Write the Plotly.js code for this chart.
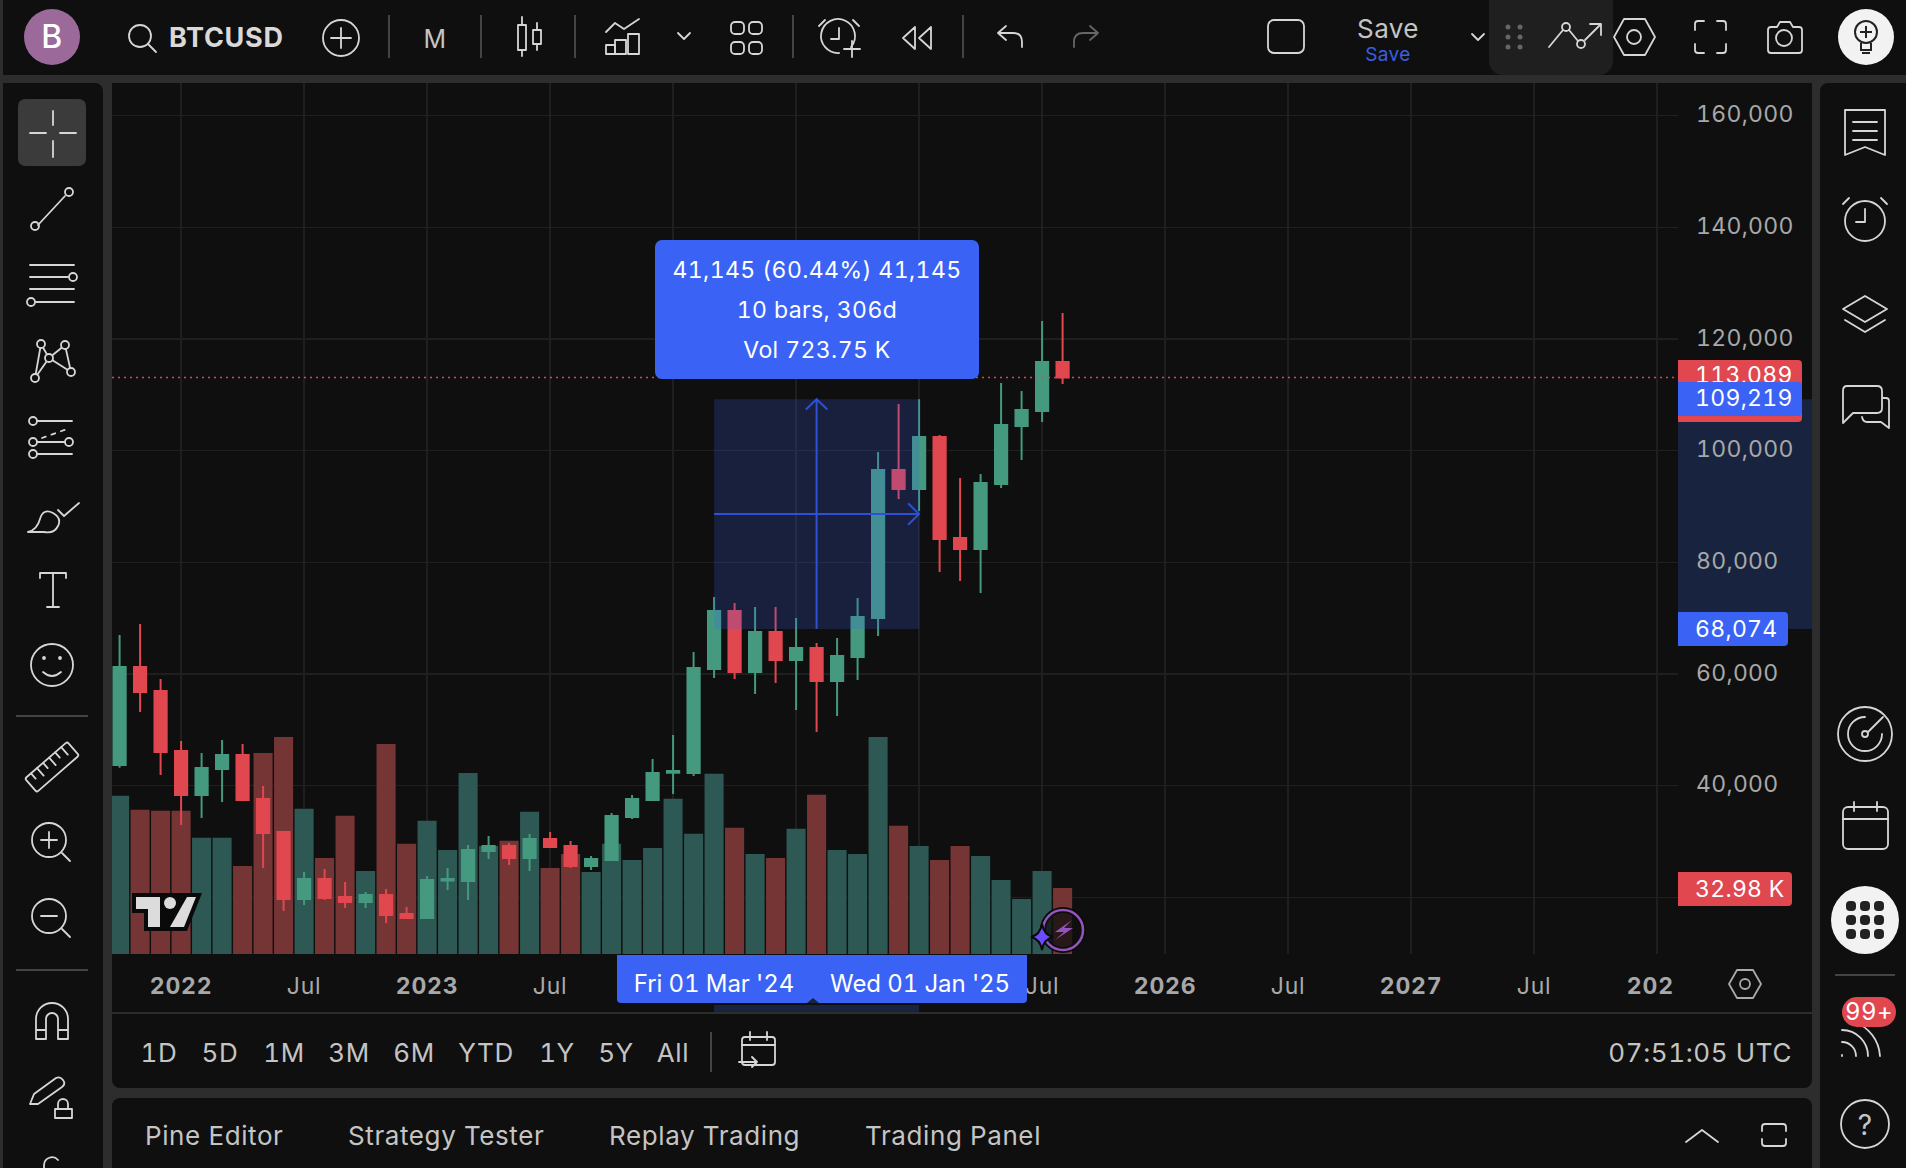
<!DOCTYPE html>
<html><head><meta charset="utf-8">
<script src="https://cdn.plot.ly/plotly-3.0.1.min.js"></script>
<style>
html,body{margin:0;padding:0;width:1906px;height:1168px;overflow:hidden;background:#2d2d2d;font-family:Inter,"Noto Sans",sans-serif;font-feature-settings:"tnum" 1}
text{font-feature-settings:"tnum" 1}
.p{position:absolute;background:#0f0f0f}
.t{position:absolute;white-space:nowrap;color:#c4c4c4;font-size:25px;line-height:1;letter-spacing:.4px}
.c{transform:translate(-50%,-50%)}
.l{transform:translateY(-50%)}
.r{font-size:26px;letter-spacing:.6px}
.b{font-size:26px;letter-spacing:.6px}
#chart{position:absolute;left:112px;top:83px;width:1700px;height:929px}
.y2tick{transform:translateY(-1.5px)}
.y2tick text{letter-spacing:.3px}
.xtick{transform:translateY(-1px)}
.xtick text{letter-spacing:.8px}
.annotation text{letter-spacing:.8px}
.tag{position:absolute;border-radius:0 4px 4px 0;color:#fff;font-size:23px;letter-spacing:.3px;line-height:1}
.tag span{position:absolute;left:17px}
svg.ui{position:absolute;left:0;top:0;pointer-events:none}
svg.ui .i{fill:none;stroke:#d6d6d6;stroke-width:1.8;stroke-linecap:round;stroke-linejoin:round}
</style></head><body>
<div class="p" style="left:3px;top:0;width:1903px;height:75px"></div>
<div class="p" style="left:3px;top:83px;width:100px;height:1085px;border-radius:0 8px 0 0"></div>
<div class="p" style="left:1820px;top:83px;width:86px;height:1085px;border-radius:8px 0 0 0"></div>
<div class="p" style="left:112px;top:1014px;width:1700px;height:74px;border-radius:0 0 8px 8px"></div>
<div class="p" style="left:112px;top:1098px;width:1700px;height:70px;border-radius:8px 8px 0 0"></div>
<div id="chart"></div>

<div class="tag" style="left:1678px;top:360px;width:124px;height:62px;background:#e0474f"><span style="top:4px">113,089</span></div>
<div class="tag" style="left:1678px;top:382px;width:124px;height:34px;background:#3a63f5"><span style="top:5px">109,219</span></div>
<div class="tag" style="left:1678px;top:612px;width:110px;height:34px;background:#3a63f5"><span style="top:6px">68,074</span></div>
<div class="tag" style="left:1678px;top:872px;width:114px;height:34px;background:#e0474f"><span style="top:6px">32.98 K</span></div>

<div style="position:absolute;left:655px;top:240px;width:324px;height:139px;background:#3a63f5;border-radius:7px;color:#fff">
<div class="t c" style="left:162px;top:30px;color:#fff;font-size:23px;letter-spacing:.4px">41,145 (60.44%) 41,145</div>
<div class="t c" style="left:162px;top:70px;color:#fff;font-size:23px;letter-spacing:.4px">10 bars, 306d</div>
<div class="t c" style="left:162px;top:110px;color:#fff;font-size:23px;letter-spacing:.4px">Vol 723.75 K</div>
</div>
<div style="position:absolute;left:617px;top:955px;width:410px;height:48px;background:#3a63f5;border-radius:0 0 4px 4px"></div>
<div style="position:absolute;left:807px;top:998px;width:0;height:0;border-left:6px solid transparent;border-right:6px solid transparent;border-bottom:5px solid #18233f"></div>
<div class="t c" style="left:714px;top:984px;color:#fff;font-size:24px;letter-spacing:-.1px">Fri 01 Mar '24</div>
<div class="t c" style="left:920px;top:984px;color:#fff;font-size:24px;letter-spacing:-.1px">Wed 01 Jan '25</div>

<svg class="ui" width="1906" height="1168" viewBox="0 0 1906 1168">
<!-- top toolbar -->
<rect x="1489" y="-14" width="124" height="89" rx="14" fill="#1f1f1f"/>
<circle cx="52" cy="37" r="28" fill="#9b6a9b"/>
<g fill="#666"><circle cx="1508" cy="27" r="2.5"/><circle cx="1520" cy="27" r="2.5"/><circle cx="1508" cy="37" r="2.5"/><circle cx="1520" cy="37" r="2.5"/><circle cx="1508" cy="47" r="2.5"/><circle cx="1520" cy="47" r="2.5"/></g>
<g stroke="#444" stroke-width="2"><path d="M389 15V58M481 15V58M575 15V58M793 15V58M963 15V58"/></g>
<g class="i">
<circle cx="140" cy="36" r="11"/><path d="M148 44l8 8"/>
<circle cx="341" cy="38" r="18"/><path d="M331 38h20M341 28v20"/>
<rect x="518" y="25" width="8" height="25"/><path d="M522 17v8M522 50v6"/><rect x="533" y="30" width="8" height="14"/><path d="M537 23v7M537 44v6"/>
<path d="M606 32l9-9 9 6 15-10"/><rect x="606" y="45" width="9" height="9"/><rect x="615" y="40" width="11" height="14"/><rect x="628" y="34" width="11" height="20"/>
<path d="M678 33l6 6 6-6"/>
<rect x="731" y="22" width="13" height="12" rx="4"/><rect x="749" y="22" width="13" height="12" rx="4"/><rect x="731" y="42" width="13" height="12" rx="4"/><rect x="749" y="42" width="13" height="12" rx="4"/>
<path d="M851 47a17 17 0 1 0-12 6"/><path d="M839 28v11h-8M825 20l-6 6M853 20l6 6M852 41v16M844 49h16"/>
<path d="M915 27l-12 11 12 11zM931 27l-12 11 12 11z"/>
<path d="M1022 47v-5q0-9-9-9h-15m8-7l-8 7 8 7"/>
<path d="M1074 47v-5q0-9 9-9h15m-8-7l8 7-8 7" stroke="#666"/>
<rect x="1268" y="20" width="36" height="33" rx="6"/>
<path d="M1472 34l6 6 6-6"/>
<path d="M1549 47l14-17M1569 30l9 11M1585 40l15-15M1590 24h11v11"/><circle cx="1566" cy="27" r="4"/><circle cx="1581" cy="44" r="4"/>
<path d="M1614 37l10-18h21l10 18-10 18h-21z"/><circle cx="1634" cy="37" r="7"/>
<path d="M1695 30v-6q0-3 3-3h6M1717 21h6q3 0 3 3v6M1726 44v6q0 3-3 3h-6M1704 53h-6q-3 0-3-3v-6"/>
<path d="M1768 30q0-3 3-3h6l3-5h10l3 5h6q3 0 3 3v20q0 3-3 3h-28q-3 0-3-3z"/><circle cx="1784" cy="38" r="8"/>
</g>
<circle cx="1866" cy="37" r="28" fill="#f2f2f2"/>
<g fill="none" stroke="#222" stroke-width="2"><circle cx="1866" cy="32" r="11"/><path d="M1860 32h12M1866 26v12M1861 43v7h10v-7M1862 53h8"/></g>

<!-- left toolbar -->
<rect x="18" y="99" width="68" height="67" rx="7" fill="#3b3b3b"/>
<g class="i">
<path d="M30 133h16M60 133h16M53 111v14M53 141v16"/>
<path d="M38 225l27-29"/><circle cx="35" cy="226" r="4"/><circle cx="69" cy="192" r="4"/>
<path d="M30 265h44M30 277h38M30 289h44M36 302h38"/><circle cx="73" cy="277" r="4"/><circle cx="31" cy="302" r="4"/>
<path d="M35 378l6-34 8 14 16-13 6 27-22-14-14 20z"/><circle cx="35" cy="378" r="4" fill="#0f0f0f"/><circle cx="41" cy="344" r="4" fill="#0f0f0f"/><circle cx="49" cy="358" r="4" fill="#0f0f0f"/><circle cx="65" cy="345" r="4" fill="#0f0f0f"/><circle cx="71" cy="372" r="4" fill="#0f0f0f"/>
<path d="M37 421h35M37 442h28M37 454h35"/><path d="M42 438l28-10" stroke-dasharray="4 6"/><circle cx="33" cy="421" r="4"/><circle cx="33" cy="442" r="4"/><circle cx="69" cy="442" r="4"/><circle cx="33" cy="454" r="4"/>
<path d="M28 532q9-2 12-13t13-6q9 5 5 13t-14 6zM58 510l6 6 15-13"/>
<path d="M40 578v-5h26v5M53 573v34M47 607h12"/>
<circle cx="52" cy="665" r="21"/><path d="M43 672q9 8 18 0"/><circle cx="44" cy="658" r="1"/><circle cx="60" cy="658" r="1"/>
<g transform="rotate(-41 52 767)"><rect x="24" y="758" width="56" height="18" rx="2"/><path d="M32 758v7M40 758v10M48 758v7M56 758v10M64 758v7M72 758v10"/></g>
<circle cx="49" cy="840" r="17"/><path d="M62 853l8 8M41 840h16M49 832v16"/>
<circle cx="49" cy="916" r="17"/><path d="M62 929l8 8M41 916h16"/>
<path d="M36 1039v-20a16 16 0 0 1 32 0v20h-10v-20a6 6 0 0 0-12 0v20zM36 1030h10M58 1030h10"/>
<path d="M30 1104l4-10 22-16q4-2 7 2t-1 7l-24 17zM55 1118v-9h17v9zM58 1109v-5a5 5 0 0 1 10 0v5"/>
<path d="M44 1168v-3a8 8 0 0 1 14-5"/>
</g>
<g stroke="#444" stroke-width="2"><path d="M16 716H88M16 970H88"/></g>

<!-- right toolbar -->
<g class="i">
<path d="M1845 110h40v45l-20-8-20 8zM1853 122h24M1853 131h24M1853 140h24"/>
<circle cx="1865" cy="221" r="20"/><path d="M1865 209v13h-9M1843 204l6-6M1887 204l-6-6"/>
<path d="M1865 296l22 13-22 13-22-13zM1845 320l20 12 20-12"/>
<path d="M1847 386h30q5 0 5 5v17q0 5-5 5h-24l-10 10v-32q0-5 4-5zM1882 398h4q3 0 3 3v27l-8-6h-14q-4 0-5-5"/>
<circle cx="1865" cy="734" r="27"/><path d="M1865 717a17 17 0 1 0 17 17"/><circle cx="1865" cy="734" r="3"/><path d="M1868 732l15-15"/>
<rect x="1843" y="807" width="45" height="42" rx="5"/><path d="M1843 819h45M1854 802v9M1877 802v9"/>
<path d="M1842 1055a8 8 0 0 0 0 1M1842 1042a14 14 0 0 1 14 14M1842 1030a26 26 0 0 1 26 26M1854 1022a38 38 0 0 1 26 34"/>
<circle cx="1865" cy="1124" r="24"/>
</g>
<g stroke="#444" stroke-width="2"><path d="M1835 975H1895"/></g>
<circle cx="1865" cy="920" r="34" fill="#f2f2f2"/>
<g fill="#222"><rect x="1846" y="901" width="10" height="10" rx="4"/><rect x="1860" y="901" width="10" height="10" rx="4"/><rect x="1874" y="901" width="10" height="10" rx="4"/><rect x="1846" y="915" width="10" height="10" rx="4"/><rect x="1860" y="915" width="10" height="10" rx="4"/><rect x="1874" y="915" width="10" height="10" rx="4"/><rect x="1846" y="929" width="10" height="10" rx="4"/><rect x="1860" y="929" width="10" height="10" rx="4"/><rect x="1874" y="929" width="10" height="10" rx="4"/></g>
<rect x="1842" y="997" width="54" height="30" rx="15" fill="#e0474f"/>

<!-- bottom / axis icons -->
<g class="i">
<path d="M1729 984l8-14h16l8 14-8 14h-16z" stroke="#aaa"/><circle cx="1745" cy="984" r="5" stroke="#aaa"/>
<rect x="742" y="1037" width="33" height="28" rx="3" fill="none"/><path d="M742 1045h33M750 1032v8M767 1032v8M739 1062h18m-5-5l5 5-5 5"/>
<path d="M1686 1142l16-12 16 12"/>
<path d="M1762 1131v-4q0-3 3-3h18q3 0 3 3v4M1762 1139v4q0 3 3 3h18q3 0 3-3v-4"/>
</g>
<g stroke="#444" stroke-width="2"><path d="M711 1032V1072"/></g>

<!-- TV logo + badges over the chart -->
<path d="M132 893h70l-15 38h-43v-18h-12z" fill="#0a0a0a"/>
<g fill="#dcdcdc"><path d="M136 897h24v30h-12v-18h-12z"/><circle cx="170" cy="903" r="6"/><path d="M187 897h9l-12 30h-14z"/></g>
<circle cx="1063" cy="930" r="20" fill="none" stroke="#0a0a0a" stroke-width="6"/>
<circle cx="1063" cy="930" r="20" fill="#0f0f0f" fill-opacity=".75" stroke="#9553c0" stroke-width="2.5"/>
<path d="M1072 920l-17 12h9l-9 8 18-12h-9z" fill="#9553c0"/>
<path d="M1042 924q2 11 11 13-9 2-11 13-2-11-11-13 9-2 11-13z" fill="#6a4cff" stroke="#0a0a0a" stroke-width="2"/>
</svg>

<!-- texts -->
<div class="t c" style="left:52px;top:37px;color:#fff;font-size:32px;font-weight:500">B</div>
<div class="t l" style="left:169px;top:37px;color:#d9d9d9;font-size:27px;font-weight:700;letter-spacing:.7px">BTCUSD</div>
<div class="t c" style="left:435px;top:39px;font-size:25px">M</div>
<div class="t c" style="left:1388px;top:29px;font-size:26px">Save</div>
<div class="t c" style="left:1388px;top:54px;color:#3a5fe0;font-size:19px">Save</div>
<div class="t c" style="left:1869px;top:1012px;color:#fff;font-size:24px">99+</div>
<div class="t c" style="left:1865px;top:1125px;font-size:28px">?</div>
<div class="t c r" style="left:159px;top:1053px">1D</div>
<div class="t c r" style="left:220px;top:1053px">5D</div>
<div class="t c r" style="left:284px;top:1053px">1M</div>
<div class="t c r" style="left:349px;top:1053px">3M</div>
<div class="t c r" style="left:414px;top:1053px">6M</div>
<div class="t c r" style="left:486px;top:1053px">YTD</div>
<div class="t c r" style="left:557px;top:1053px">1Y</div>
<div class="t c r" style="left:616px;top:1053px">5Y</div>
<div class="t c r" style="left:673px;top:1053px">All</div>
<div class="t l r" style="right:114px;top:1053px;letter-spacing:.6px">07:51:05 UTC</div>
<div class="t l b" style="left:145px;top:1136px">Pine Editor</div>
<div class="t l b" style="left:348px;top:1136px">Strategy Tester</div>
<div class="t l b" style="left:609px;top:1136px">Replay Trading</div>
<div class="t l b" style="left:865px;top:1136px">Trading Panel</div>

<script>
// Monthly BTCUSD candles, Oct 2021 .. Aug 2025; index 0 = Jan 2022
const monthIndex = [-3,-2,-1,0,1,2,3,4,5,6,7,8,9,10,11,12,13,14,15,16,17,18,19,20,21,22,23,24,25,26,27,28,29,30,31,32,33,34,35,36,37,38,39,40,41,42,43];
const open  = [43692,61247,56948,46201,38319,42976,45484,37602,31691,19689,23272,20046,19150,20405,16999,16285,23000,22913,28287,29183,27033,30437,29183,25600,26675,34376,37421,42317,42257,60890,71279,60352,67517,62502,64652,58740,63040,70025,96536,93133,102448,84355,82385,94028,104418,107105,115883];
const high  = [66979,68950,59098,47992,45842,48170,47455,39931,31870,24526,25063,22734,20943,21480,18256,23809,25242,29362,30974,29720,31332,31690,30080,27390,35095,38316,44765,49064,63935,73787,72714,71996,71996,70025,65547,66443,73608,99760,108359,109219,102806,95103,95820,112121,110688,123227,124660];
const low   = [43215,53186,41901,32945,34199,37064,37423,25243,17539,18614,19510,18076,18076,15389,16285,16285,21300,19510,26854,25779,24705,28825,25243,24883,26496,34017,37421,38495,41720,59278,59100,56412,58382,53547,49603,52473,58919,66800,91342,89192,78265,76653,74503,93312,98328,105135,111941];
const close = [61247,56769,46020,38319,43154,45484,37423,31511,19689,23272,19868,19150,20405,16822,16285,23093,23272,28467,29183,27033,30437,29004,25600,26854,34556,37600,42257,42615,61069,71279,60352,67517,62502,64652,58740,63219,70205,96536,93133,102448,84176,82385,94208,104598,107284,115883,113089];
const volumeK = [79,72,71.5,71.5,58,58,44,100.4,108.4,72.5,48,69,41.5,104.9,55,66.5,52,90.4,54,56.5,71,43,50,41,55,47,53,77.5,60,90,63,50,48,62.5,79.5,52,50,108.4,64,54,47,54,49,37,27.5,41.5,32.98];

// Axis ticks
const timeTicks = [0,6,12,18,24,30,36,42,48,54,60,66,72];
const timeLabels = ['<b>2022</b>','Jul','<b>2023</b>','Jul','','','','Jul','<b>2026</b>','Jul','<b>2027</b>','Jul',''];
const priceTicks = [20000,40000,60000,80000,100000,120000,140000,160000];
const priceLabels = ['','40,000','60,000','80,000','100,000','120,000','140,000','160,000'];

// Date-and-price range measurement
const rangeStart = 26, rangeEnd = 36, rangeLow = 68074, rangeHigh = 109219, lastClose = 113089;

const GREEN='#45997f', RED='#e0474f', BLUE='#2f50d3';
const midX=(rangeStart+rangeEnd)/2, midY=(rangeLow+rangeHigh)/2;
const pxX=1/20.5, pxY=179.13;
const lineShape=(path)=>({type:'path',xref:'x',yref:'y2',layer:'above',path,line:{color:BLUE,width:2}});

const traces=[
 {type:'bar',x:monthIndex,y:volumeK,xaxis:'x',yaxis:'y',hoverinfo:'skip',
  marker:{color:monthIndex.map((_,i)=>close[i]>=open[i]?'#2e5853':'#763535'),line:{width:0}}},
 {type:'candlestick',x:monthIndex,open,high,low,close,xaxis:'x',yaxis:'y2',hoverinfo:'skip',whiskerwidth:0,
  increasing:{line:{color:GREEN,width:2},fillcolor:GREEN},
  decreasing:{line:{color:RED,width:2},fillcolor:RED}}
];
const layout={
 width:1700,height:929,margin:{l:0,r:134,t:0,b:58,pad:0},
 paper_bgcolor:'#0f0f0f',plot_bgcolor:'#0f0f0f',showlegend:false,
 bargap:0.07,boxgap:0.15,
 font:{family:'Inter, "Noto Sans", sans-serif',color:'#a8a8a8'},
 xaxis:{range:[-3.37,73.02],tickmode:'array',tickvals:timeTicks,ticktext:timeLabels,showgrid:true,gridcolor:'#1f1f1f',gridwidth:1.5,
   zeroline:false,showline:false,ticks:'',ticklabelstandoff:17,tickangle:0,tickfont:{size:23,color:'#a8a8a8'},rangeslider:{visible:false},fixedrange:true},
 yaxis:{range:[0,435],visible:false,showgrid:false,zeroline:false,fixedrange:true},
 yaxis2:{overlaying:'y',side:'right',anchor:'x',range:[9834,165858],tickmode:'array',tickvals:priceTicks,ticktext:priceLabels,
   showgrid:true,gridcolor:'#1f1f1f',gridwidth:1.5,zeroline:false,showline:false,ticks:'',ticklabelstandoff:17,tickfont:{size:23,color:'#a8a8a8'},fixedrange:true},
 shapes:[
  // measurement band on the price and time scales
  {type:'rect',xref:'paper',yref:'y2',x0:1,x1:1.0856,y0:rangeLow,y1:rangeHigh,layer:'below',fillcolor:'#18233f',line:{width:0}},
  {type:'rect',xref:'x',yref:'paper',x0:rangeStart,x1:rangeEnd,y0:-0.0585,y1:-0.0665,layer:'below',fillcolor:'#18233f',line:{width:0}},
  {type:'line',xref:'paper',yref:'y2',x0:0,x1:1,y0:lastClose,y1:lastClose,layer:'above',line:{color:RED,width:1.5,dash:'2px,4px'}},
  {type:'rect',xref:'x',yref:'y2',x0:rangeStart,x1:rangeEnd,y0:rangeLow,y1:rangeHigh,layer:'above',fillcolor:'rgba(58,99,245,0.2)',line:{width:0}},
  lineShape(`M ${midX} ${rangeLow} L ${midX} ${rangeHigh}`),
  lineShape(`M ${midX-10.7*pxX} ${rangeHigh-10.3*pxY} L ${midX} ${rangeHigh} L ${midX+10.7*pxX} ${rangeHigh-10.3*pxY}`),
  lineShape(`M ${rangeStart} ${midY} L ${rangeEnd} ${midY}`),
  lineShape(`M ${rangeEnd-11*pxX} ${midY+10.7*pxY} L ${rangeEnd} ${midY} L ${rangeEnd-11*pxX} ${midY-10.7*pxY}`)
 ],
 annotations:[
  {xref:'x',yref:'paper',x:72,xshift:-31,xanchor:'left',y:-0.0367,yanchor:'middle',showarrow:false,text:'<b>202</b>',font:{size:23,color:'#a8a8a8'}}
 ]
};
Plotly.newPlot('chart',traces,layout,{displayModeBar:false,staticPlot:true,responsive:false});
</script>
</body></html>
